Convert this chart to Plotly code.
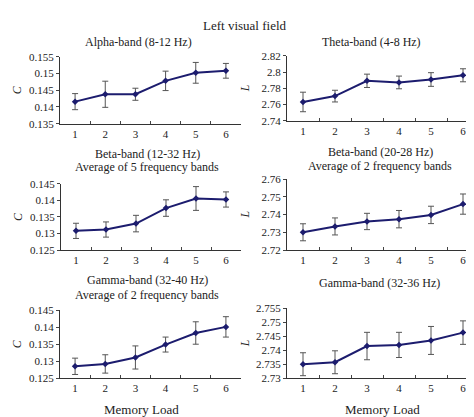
import plotly.graph_objects as go

W, H = 474, 417

loads = ["1", "2", "3", "4", "5", "6"]

alpha_c = [0.1416, 0.1438, 0.1438, 0.1478, 0.1502, 0.1508]
alpha_c_err = [0.0024, 0.0039, 0.0018, 0.0029, 0.0031, 0.0022]

theta_l = [2.7632, 2.7704, 2.7892, 2.7872, 2.7908, 2.7960]
theta_l_err = [0.0120, 0.0072, 0.0082, 0.0078, 0.0084, 0.0080]

beta_c = [0.1308, 0.1312, 0.1330, 0.1377, 0.1406, 0.1403]
beta_c_err = [0.0023, 0.0023, 0.0025, 0.0025, 0.0036, 0.0023]

beta_l = [2.7300, 2.7333, 2.7361, 2.7374, 2.7398, 2.7459]
beta_l_err = [0.0048, 0.0048, 0.0046, 0.0049, 0.0049, 0.0057]

gamma_c = [0.1285, 0.1292, 0.1311, 0.1349, 0.1383, 0.1401]
gamma_c_err = [0.0024, 0.0027, 0.0034, 0.0022, 0.0033, 0.0030]

gamma_l = [2.7350, 2.7357, 2.7415, 2.7419, 2.7435, 2.7463]
gamma_l_err = [0.0041, 0.0041, 0.0049, 0.0045, 0.0050, 0.0042]

# panel: values, errors, y range, dtick, y label, pixel box (x0, x1, ytop, ybottom)
panels = [
    (alpha_c, alpha_c_err, [0.135, 0.155], 0.005, "C", (52, 233, 44, 113)),
    (theta_l, theta_l_err, [2.74, 2.82], 0.02, "L", (279, 471, 43, 110)),
    (beta_c, beta_c_err, [0.125, 0.145], 0.005, "C", (53, 233, 175, 243)),
    (beta_l, beta_l_err, [2.72, 2.76], 0.01, "L", (279, 471, 170, 243)),
    (gamma_c, gamma_c_err, [0.125, 0.145], 0.005, "C", (52, 233, 305, 375)),
    (gamma_l, gamma_l_err, [2.73, 2.755], 0.005, "L", (279, 471, 303, 375)),
]

FONT = "Liberation Serif"
LINE = "#1c1c6e"
TXT = "#222222"

fig = go.Figure()
annotations = []

for i, (vals, errs, yr, dt, ylab, (x0, x1, yt, yb)) in enumerate(panels):
    n = "" if i == 0 else str(i + 1)
    fig.add_trace(go.Scatter(
        x=loads, y=vals,
        xaxis="x" + n, yaxis="y" + n,
        mode="lines+markers",
        line=dict(color=LINE, width=2),
        marker=dict(symbol="diamond", size=5, color=LINE),
        error_y=dict(type="data", array=errs, color="#555555", thickness=1, width=3),
        showlegend=False,
    ))
    fig.update_layout({
        "xaxis" + n: dict(
            domain=[x0 / W, x1 / W], anchor="y" + n, type="category",
            range=[-0.5, 5.5], tickson="boundaries", ticks="inside", ticklen=3,
            showline=True, linecolor="#333333", linewidth=1, showgrid=False,
            tickfont=dict(family=FONT, size=11, color=TXT),
        ),
        "yaxis" + n: dict(
            domain=[1 - yb / H, 1 - yt / H], anchor="x" + n,
            range=yr, dtick=dt, tick0=yr[0], ticks="outside", ticklen=3,
            showline=True, linecolor="#333333", linewidth=1, showgrid=False,
            zeroline=False,
            tickfont=dict(family=FONT, size=11, color=TXT),
        ),
    })
    annotations.append(dict(
        text="<i>" + ylab + "</i>", x=(x0 - 43) / W if ylab == "C" else (x0 - 42) / W,
        y=1 - (yt + yb) / 2 / H, xref="paper", yref="paper", textangle=-90,
        xanchor="center", yanchor="middle",
        showarrow=False, font=dict(family=FONT, size=12, color=TXT),
    ))


def label(text, x, y, size=12):
    annotations.append(dict(
        text=text, x=x / W, y=1 - y / H, xref="paper", yref="paper",
        xanchor="center", yanchor="middle",
        showarrow=False, font=dict(family=FONT, size=size, color=TXT),
    ))


label("Left visual field", 237, 12, 13)
label("Alpha-band (8-12 Hz)", 130, 29)
label("Theta-band (4-8 Hz)", 363, 29)
label("Beta-band (12-32 Hz)", 139, 144)
label("Average of 5 frequency bands", 139, 158)
label("Beta-band (20-28 Hz)", 372, 142)
label("Average of 2 frequency bands", 372, 156)
label("Gamma-band (32-40 Hz)", 139, 274)
label("Average of 2 frequency bands", 139, 289)
label("Gamma-band (32-36 Hz)", 371, 277)
label("Memory Load", 133, 407, 13)
label("Memory Load", 374, 407, 13)

fig.update_layout(
    width=W, height=H,
    margin=dict(l=0, r=0, t=0, b=0),
    paper_bgcolor="white", plot_bgcolor="white",
    font=dict(family=FONT),
    annotations=annotations,
)

fig.write_html("out.html")
